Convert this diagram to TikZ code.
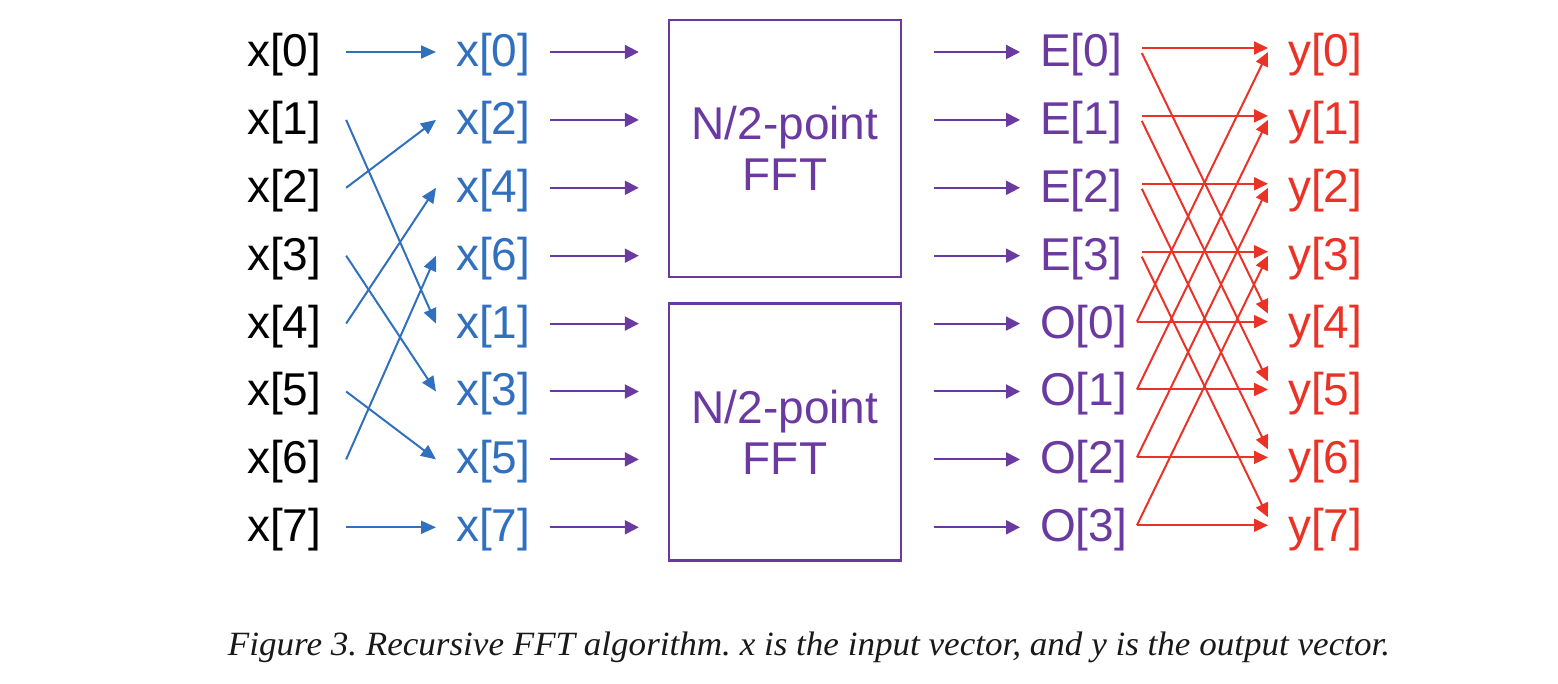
\documentclass[tikz,border=0pt]{standalone}
\usepackage{fontspec}
\setmainfont{Liberation Sans}
\newfontfamily\capfont{Liberation Serif}
\usepackage{graphicx}
\usepackage{xcolor}
\usetikzlibrary{arrows.meta}

\definecolor{fftblue}{RGB}{48,112,190}
\definecolor{fftpurple}{RGB}{106,58,160}
\definecolor{fftred}{RGB}{234,50,38}

\tikzset{
    lbl/.style={inner sep=0pt, outer xsep=20pt, anchor=west, text height=39pt, text depth=10pt, font=\fontsize{46}{51}\selectfont},
    bluearrow/.style={draw=fftblue, line width=2pt, -{Triangle[length=15pt, width=13pt]}},
    purplearrow/.style={draw=fftpurple, line width=2pt, -{Triangle[length=14pt, width=14pt]}},
    redarrow/.style={draw=fftred, line width=2pt, -{Triangle[length=14pt, width=13pt]}},
    fftbox/.style={draw=fftpurple, line width=2.4pt, minimum width=232pt, minimum height=257pt, align=center, text=fftpurple, font=\fontsize{46}{51}\selectfont}
}

\begin{document}
\frenchspacing
\begin{tikzpicture}[x=1pt, y=-1pt]
    \useasboundingbox (0,0) rectangle (1558,684);

    % input vector
    \foreach \i in {0,...,7}
        \node[lbl, outer xsep=25pt] (xin\i) at (222, 52+67.9*\i) {x[\i]};

    % even entries first, then odd ones
    \foreach \k [count=\r from 0] in {0,2,4,6,1,3,5,7}
        \node[lbl, text=fftblue] (xs\k) at (436, 52+67.9*\r) {x[\k]};

    \foreach \k in {0,...,7}
        \draw[bluearrow] (xin\k.east) -- (xs\k.west);

    % the two half-size transforms
    \node[fftbox] (fftE) at (785, 148.5) {N/2-point\\FFT};
    \node[fftbox] (fftO) at (785, 432) {N/2-point\\FFT};

    \foreach \k in {0,2,4,6}
        \draw[purplearrow, shorten >=29pt] (xs\k.east) -- (fftE.west |- xs\k.east);
    \foreach \k in {1,3,5,7}
        \draw[purplearrow, shorten >=29pt] (xs\k.east) -- (fftO.west |- xs\k.east);

    \foreach \i in {0,...,3} {
        \node[lbl, text=fftpurple] (E\i) at (1020, 52+67.9*\i) {E[\i]};
        \node[lbl, outer xsep=10pt, text=fftpurple] (O\i) at (1030, {52+67.9*(\i+4)}) {O[\i]};
        \draw[purplearrow, shorten <=32pt] (fftE.east |- E\i.west) -- (E\i.west);
        \draw[purplearrow, shorten <=32pt] (fftO.east |- O\i.west) -- ([xshift=-10pt]O\i.west);
    }

    % output vector
    \foreach \i in {0,...,7}
        \node[lbl, text=fftred] (y\i) at (1268, 52+67.9*\i) {y[\i]};

    % butterflies
    \foreach \i [evaluate=\i as \j using int(\i+4)] in {0,...,3} {
        \draw[redarrow] ([yshift=4pt]E\i.east) -- ([yshift=4pt]y\i.west);
        \draw[redarrow] ([yshift=-1pt]E\i.east) -- ([yshift=10pt]y\j.west);
        \draw[redarrow] ([yshift=2pt]O\i.east) -- ([yshift=2pt]y\j.west);
        \draw[redarrow] ([yshift=2pt]O\i.east) -- (y\i.west);
    }

    % caption
    \node[text=black!90] (cap) at (809, 647) {\resizebox{1162pt}{\height}{\capfont\itshape\fontsize{34}{40}\selectfont Figure 3. Recursive FFT algorithm. x is the input vector, and y is the output vector.}};
\end{tikzpicture}
\end{document}
